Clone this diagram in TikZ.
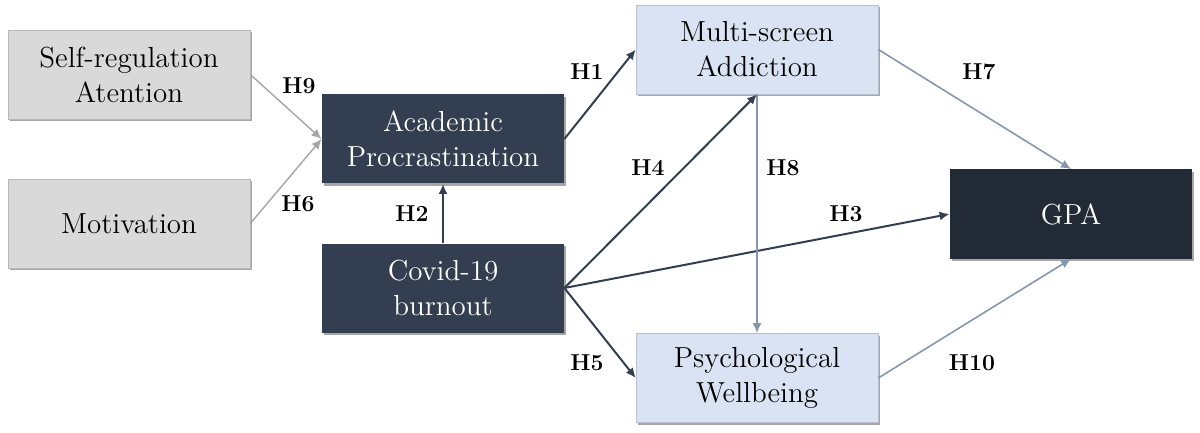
\documentclass[tikz,border=0pt]{standalone}
\usetikzlibrary{shadows,arrows.meta}
\definecolor{darkbox}{HTML}{333F50}
\definecolor{gpabox}{HTML}{222A35}
\definecolor{lightbox}{HTML}{DAE3F3}
\definecolor{graybox}{HTML}{D9D9D9}
\definecolor{darkline}{HTML}{333F50}
\definecolor{blueline}{HTML}{8497B0}
\definecolor{grayline}{HTML}{A6A6A6}
\begin{document}
\begin{tikzpicture}[x=0.5pt,y=-0.5pt,
  box/.style={minimum width=121pt,minimum height=44.5pt,inner sep=0pt,align=center,
    font=\fontsize{14.5}{17.5}\selectfont,
    drop shadow={shadow xshift=0.8pt,shadow yshift=-1.2pt,opacity=0.35,fill=black}},
  graynode/.style={box,fill=graybox,draw=graybox!85!black,line width=0.3pt},
  darknode/.style={box,fill=darkbox,text=white},
  gpanode/.style={box,fill=gpabox,text=white},
  lightnode/.style={box,fill=lightbox,draw=lightbox!85!black,line width=0.3pt},
  hlab/.style={font=\fontsize{11.5}{13}\selectfont\bfseries,inner sep=0pt},
  darkarrow/.style={draw=darkline,line width=1pt,-{Latex[length=5pt,width=4.5pt]}},
  bluearrow/.style={draw=blueline,line width=0.8pt,-{Latex[length=5pt,width=4.5pt]}},
  grayarrow/.style={draw=grayline,line width=0.7pt,-{Latex[length=5pt,width=4.5pt]}}]
\useasboundingbox (0,0) rectangle (1200,433);
\node[graynode] (sr) at (129,74.5) {Self-regulation\\Atention};
\node[graynode] (mot) at (129,223.5) {Motivation};
\node[darknode] (ap) at (443,139) {Academic\\Procrastination};
\node[darknode] (cb) at (443,288) {Covid-19\\burnout};
\node[lightnode] (ms) at (757,49.5) {Multi-screen\\Addiction};
\node[lightnode] (pw) at (757,378) {Psychological\\Wellbeing};
\node[gpanode] (gpa) at (1071,214) {GPA};
\draw[grayarrow] (sr.east) -- (ap.west);
\draw[grayarrow] (mot.east) -- (ap.west);
\draw[darkarrow] (cb.north) -- (ap.south);
\draw[darkarrow] (ap.east) -- (ms.west);
\draw[darkarrow] (cb.east) -- (ms.south);
\draw[darkarrow] (cb.east) -- (gpa.west);
\draw[darkarrow] (cb.east) -- (pw.west);
\draw[bluearrow] (ms.south) -- (pw.north);
\draw[bluearrow] (ms.east) -- (gpa.north);
\draw[bluearrow] (pw.east) -- (gpa.south);
\node[hlab] (h9) at (299,86) {H9};
\node[hlab] (h6) at (298,204) {H6};
\node[hlab] (h2) at (412,214) {H2};
\node[hlab] (h1) at (587,72) {H1};
\node[hlab] (h4) at (648,168) {H4};
\node[hlab] (h8) at (783,168) {H8};
\node[hlab] (h3) at (846,214) {H3};
\node[hlab] (h5) at (587,363) {H5};
\node[hlab] (h7) at (979,72) {H7};
\node[hlab] (h10) at (972,363) {H10};
\end{tikzpicture}
\end{document}
